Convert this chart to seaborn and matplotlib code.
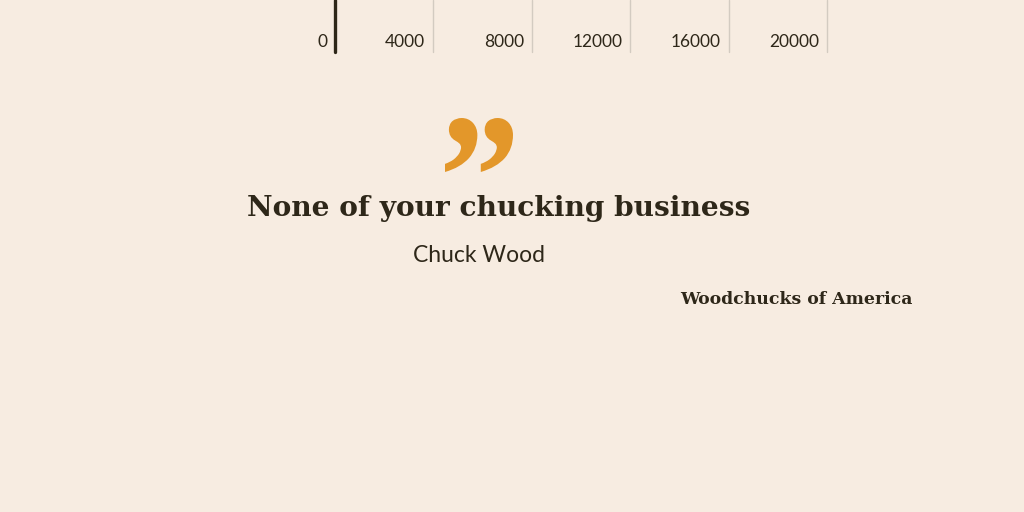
import matplotlib
matplotlib.use('Agg')
import matplotlib.pyplot as plt
import seaborn as sns
from matplotlib.textpath import TextPath
from matplotlib.patches import PathPatch
from matplotlib.transforms import Affine2D
from matplotlib.font_manager import FontProperties

# axis ticks along the bottom of a chart scrolled mostly off the top
tick_values = [0, 4000, 8000, 12000, 16000, 20000]
tick_labels = ['0', '4000', '8000', '12000', '16000', '20000']
x_max = 20000

quote_text = 'None of your chucking business'
author = 'Chuck Wood'
source = 'Woodchucks of America'

bg = '#F7ECE1'
ink = '#2E2719'
orange = '#E3972A'
grid = '#D3CBC1'

sns.set_theme(style='white')
plt.rcParams['font.family'] = ['DejaVu Sans']

fig = plt.figure(figsize=(10.24, 5.12), dpi=100)
fig.patch.set_facecolor(bg)

# strip of axis at the top (0..52 px from top)
ax = fig.add_axes([335 / 1024, 1 - 52 / 512, 492 / 1024, 52 / 512])
ax.set_facecolor(bg)
ax.set_xlim(0, x_max)
ax.set_ylim(0, 1)
for v, lab in zip(tick_values, tick_labels):
    if v == 0:
        ax.axvline(v, color=ink, lw=2.4, zorder=3, clip_on=False)
    else:
        ax.axvline(v, color=grid, lw=1, zorder=1, clip_on=False)
    ax.annotate(lab, xy=(v, 0), xycoords=('data', 'axes fraction'),
                xytext=(-8, 5), textcoords='offset pixels',
                ha='right', va='baseline', fontsize=12.5, color=ink,
                family=['Lato', 'DejaVu Sans'])
ax.set_xticks([])
ax.set_yticks([])
sns.despine(ax=ax, left=True, bottom=True)

# big quote mark, fitted into its box (pixels)
fp = FontProperties(family='Liberation Serif', weight='bold')
tp = TextPath((0, 0), '\u201D', size=100, prop=fp)
ext = tp.get_extents()
qx0, qx1, qtop, qbot = 445, 513, 118, 172
trans = (Affine2D().translate(-ext.x0, -ext.y0)
         .scale((qx1 - qx0) / ext.width, (qbot - qtop) / ext.height)
         .translate(qx0, 512 - qbot))
fig.add_artist(PathPatch(tp, transform=trans, facecolor=orange, edgecolor='none'))

fig.text(499 / 1024, 1 - 208 / 512, quote_text, ha='center', va='center',
         fontsize=20.2, color=ink, fontweight='bold',
         family=['DejaVu Serif'])
fig.text(479 / 1024, 1 - 256 / 512, author, ha='center', va='center',
         fontsize=16.5, color=ink, family=['Lato', 'DejaVu Sans'])
fig.text(912 / 1024, 1 - 300 / 512, source, ha='right', va='center',
         fontsize=12.4, color=ink, fontweight='bold',
         family=['DejaVu Serif'])

fig.savefig('out.png', dpi=100, facecolor=bg)
